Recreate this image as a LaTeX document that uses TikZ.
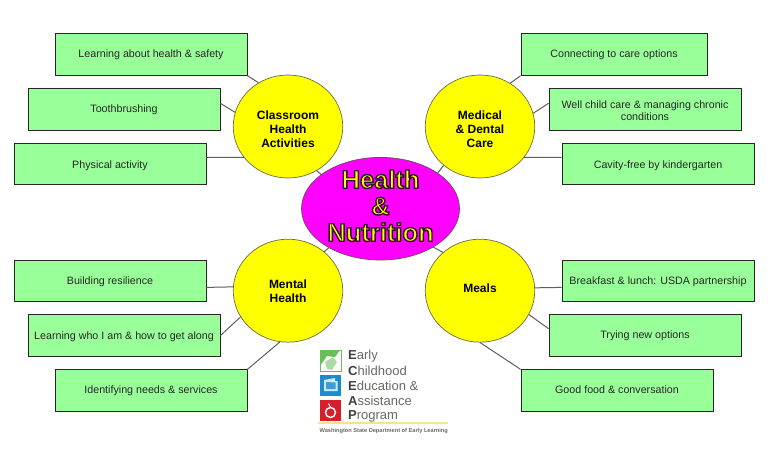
\documentclass[tikz,border=0pt]{standalone}
\usepackage{fontspec}
\setmainfont{Liberation Sans}
\usetikzlibrary{shapes.geometric}
\definecolor{boxgreen}{RGB}{153,255,153}
\definecolor{hubyellow}{RGB}{255,255,0}
\definecolor{hubmagenta}{RGB}{255,0,255}
\definecolor{linkgray}{RGB}{95,95,90}
\definecolor{logogray}{RGB}{105,105,100}
\definecolor{logogreen}{RGB}{105,190,90}
\definecolor{logoblue}{RGB}{25,140,210}
\definecolor{logored}{RGB}{215,30,45}
\definecolor{ruleyellow}{RGB}{250,225,140}
\newcommand{\outlined}[1]{\special{pdf:code q 2 Tr 1.4 w 0.2 0.05 0.2 RG 1 1 0 rg}#1\special{pdf:code Q}}
\newcommand{\stack}[2]{\raisebox{#1}{\begin{tabular}{@{}c@{}}#2\end{tabular}}}
\tikzset{
  leaf/.style={draw=black!85,line width=0.9pt,fill=boxgreen,minimum width=192pt,minimum height=41.5pt,inner sep=2pt,text height=8pt,text depth=2.5pt,font=\fontsize{10.7}{12}\selectfont,text=black!85},
  hub/.style={ellipse,draw=black!65!yellow,line width=0.7pt,fill=hubyellow,minimum width=109.5pt,minimum height=103pt,inner sep=0pt,text height=0pt,text depth=0pt,font=\fontsize{12}{14}\selectfont\bfseries},
  core/.style={ellipse,draw=black!65!magenta,line width=0.7pt,fill=hubmagenta,minimum width=158pt,minimum height=102.6pt,inner sep=0pt,text height=0pt,text depth=0pt,font=\fontsize{25.5}{26.5}\selectfont\bfseries},
  link/.style={draw=linkgray,line width=1pt},
  logoline/.style={font=\fontsize{13}{15}\selectfont,text=logogray,anchor=base west,inner sep=0pt},
  logotile/.style={minimum size=21pt,inner sep=0pt,anchor=north west}
}
\newcommand{\ini}[1]{\textbf{\textcolor{black!75}{#1}}}
\begin{document}
\begin{tikzpicture}[x=1pt,y=-1pt]
\useasboundingbox[fill=white] (0,0) rectangle (768,466);
% hubs
\node[core] (core) at (380.5,208.7) {\stack{-7pt}{\outlined{Health}\\\outlined{\&}\\\outlined{Nutrition}}};
\node[hub] (cha) at (288,126.5) {\stack{-7pt}{Classroom\\Health\\Activities}};
\node[hub] (med) at (480,126.5) {\stack{-7pt}{Medical\\\& Dental\\Care}};
\node[hub] (men) at (288,290.7) {\stack{-5pt}{Mental\\Health}};
\node[hub] (mea) at (480,290.7) {\stack{-2pt}{Meals}};
% leaves
\node[leaf] (a1) at (151,54.5) {Learning about health \& safety};
\node[leaf] (a2) at (124,109.5) {Toothbrushing};
\node[leaf] (a3) at (110,164) {\raisebox{-2pt}{Physical activity}};
\node[leaf,minimum width=186pt] (b1) at (614,54.5) {Connecting to care options};
\node[leaf,text height=0pt,text depth=0pt] (b2) at (645,109.5) {\stack{-5.5pt}{Well child care \& managing chronic\\conditions}};
\node[leaf] (b3) at (658,164) {\raisebox{-1.5pt}{Cavity-free by kindergarten}};
\node[leaf] (c1) at (110,281) {\raisebox{-0.5pt}{Building resilience}};
\node[leaf] (c2) at (124,335.5) {\raisebox{-1pt}{Learning who I am \& how to get along}};
\node[leaf] (c3) at (151,390.5) {Identifying needs \& services};
\node[leaf] (d1) at (658,281) {\raisebox{-0.5pt}{Breakfast \& lunch: USDA partnership}};
\node[leaf] (d2) at (645,335.5) {Trying new options};
\node[leaf] (d3) at (617,390.5) {Good food \& conversation};
% connectors
\draw[link] (a1.south east) -- (cha.124.4);
\draw[link] (a2.east) ++(0,-6.2) coordinate (a2p) -- (cha.165.2);
\draw[link] (a3.east) ++(0,-6.7) coordinate (a3p) -- (cha.215.8);
\draw[link] (b1.south west) -- (med.55.6);
\draw[link] (b2.west) ++(0,-6.2) coordinate (b2p) -- (med.14.8);
\draw[link] (b3.west) ++(0,-6.7) coordinate (b3p) -- (med.-35.8);
\draw[link] (c1.east) ++(0,6.4) coordinate (c1p) -- (men.176.4);
\draw[link] (c2.east) -- (men.209.6);
\draw[link] (c3.north east) -- (men.261.3);
\draw[link] (d1.west) ++(0,6.4) coordinate (d1p) -- (mea.3.6);
\draw[link] (d2.west) ++(0,-6.8) coordinate (d2p) -- (mea.-26.9);
\draw[link] (d3.north west) -- (mea.-90);
\draw[link] (cha.-57) -- (core.150.9);
\draw[link] (med.227.6) -- (core.32.3);
\draw[link] (men.47.3) -- (core.217.5);
\draw[link] (mea.134.5) -- (core.-36.8);
% logo
\node[logotile,fill=white,draw=logogreen,line width=1.2pt] (lg) at (320,350) {};
\fill[logogreen] (320,350) -- (340,350) -- (335,357) -- (327,356) -- (320,366) -- cycle;
\fill[logogreen!55] (325,362) -- (333,357) -- (337,362) -- (332,370) -- (327,369) -- cycle;
\node[logotile,fill=logoblue] (lb) at (320,375) {};
\fill[white!80!logoblue] (324,380) -- (335,378) -- (335,381) -- (337.5,381) -- (337.5,391) -- (324,391) -- cycle;
\fill[logoblue!85] (326,382) -- (335.5,382.5) -- (335.5,389) -- (326,389) -- cycle;
\node[logotile,fill=logored] (lr) at (320,400) {};
\draw[white,line width=1.4pt] (330.5,412.5) circle[x radius=5,y radius=5];
\draw[white,line width=1.1pt] (330.5,407.5) -- (328.5,403.5);
\node[logoline] (t1) at (348,359.5) {\ini{E}arly};
\node[logoline] (t2) at (348,375) {\ini{C}hildhood};
\node[logoline] (t3) at (348,390) {\ini{E}ducation \&};
\node[logoline] (t4) at (348,405) {\ini{A}ssistance};
\node[logoline] (t5) at (348,419.5) {\ini{P}rogram};
\fill[ruleyellow] (318,422.4) rectangle (448,423.9);
\node[font=\fontsize{5.65}{6}\selectfont\bfseries,text=logogray,anchor=base west,inner sep=0pt] (cap) at (319.5,432.5) {Washington State Department of Early Learning};
\end{tikzpicture}
\end{document}
